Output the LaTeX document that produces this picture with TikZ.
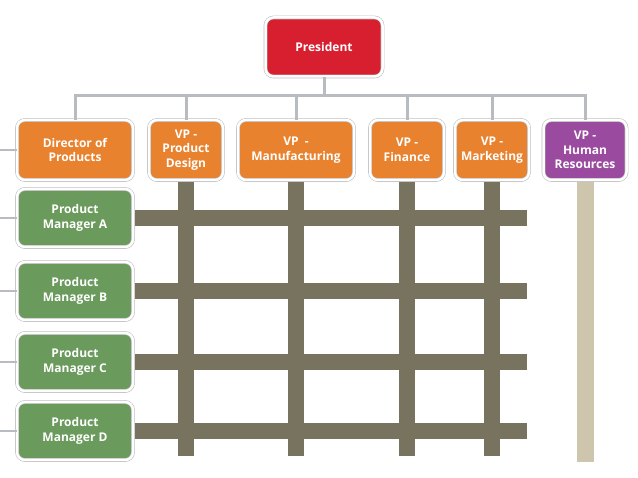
\documentclass[tikz,border=0pt]{standalone}
\usepackage{fontspec}
\setmainfont{Open Sans}
\usetikzlibrary{shadows}
\definecolor{org}{HTML}{E8822E}
\definecolor{grn}{HTML}{6A9A5C}
\definecolor{rd}{HTML}{D71F30}
\definecolor{prp}{HTML}{9B4B9F}
\definecolor{bar}{HTML}{77735F}
\definecolor{hrbar}{HTML}{CDC6AD}
\definecolor{bus}{HTML}{B8BCC0}
\tikzset{
 box/.style={draw=black!25,line width=0.6pt,double=white,double distance=2.5pt,rounded corners=8pt,text=white,font=\bfseries\fontsize{12}{14.5}\selectfont,align=center,inner sep=0pt,drop shadow={shadow xshift=1pt,shadow yshift=-1.5pt,opacity=0.35}},
 busline/.style={draw=bus,line width=3pt},
 gbar/.style={draw=bar,line width=16pt},
}
\begin{document}
\begin{tikzpicture}[x=1pt,y=-1pt]
\useasboundingbox[fill=white] (0,0) rectangle (638,478);
% bars
\foreach \x in {186,296,407,492} \draw[gbar] (\x,181) -- (\x,456);
\foreach \y in {218,291,362,431} \draw[gbar] (134,\y) -- (527,\y);
\draw[draw=hrbar,line width=17pt] (585,181) -- (585,462);
% nodes
\node[box,fill=rd,minimum width=117pt,minimum height=59pt] (pres) at (324,47) {President};
\node[box,fill=org,minimum width=116pt,minimum height=60pt] (dir) at (75,150) {Director of\\Products};
\node[box,fill=org,minimum width=74pt,minimum height=60pt] (pd) at (186,150) {VP -\\Product\\Design};
\node[box,fill=org,minimum width=116pt,minimum height=60pt] (mf) at (296,150) {VP \ -\\Manufacturing};
\node[box,fill=org,minimum width=74pt,minimum height=60pt] (fin) at (407,150) {VP -\\Finance};
\node[box,fill=org,minimum width=74pt,minimum height=60pt] (mkt) at (492,150) {VP -\\Marketing};
\node[box,fill=prp,minimum width=83pt,minimum height=60pt] (hr) at (585,150) {VP -\\Human\\Resources};
\node[box,fill=grn,minimum width=116pt,minimum height=58pt] (pa) at (75,218) {Product\\Manager A};
\node[box,fill=grn,minimum width=116pt,minimum height=58pt] (pb) at (75,291) {Product\\Manager B};
\node[box,fill=grn,minimum width=116pt,minimum height=58pt] (pc) at (75,362) {Product\\Manager C};
\node[box,fill=grn,minimum width=116pt,minimum height=58pt] (pm) at (75,431) {Product\\Manager D};
% bus
\coordinate (j) at (324,96);
\draw[busline] (pres.south) -- (j);
\draw[busline] (dir.north) |- (hr.north |- j) -- (hr.north);
\foreach \n in {pd,mf,fin,mkt} \draw[busline] (\n.north |- j) -- (\n.north);
\foreach \n in {dir,pa,pb,pc,pm} {\coordinate (l\n) at (0,0 |- \n.west); \draw[busline,line width=2pt] (l\n) -- (\n.west);}
\end{tikzpicture}
\end{document}
